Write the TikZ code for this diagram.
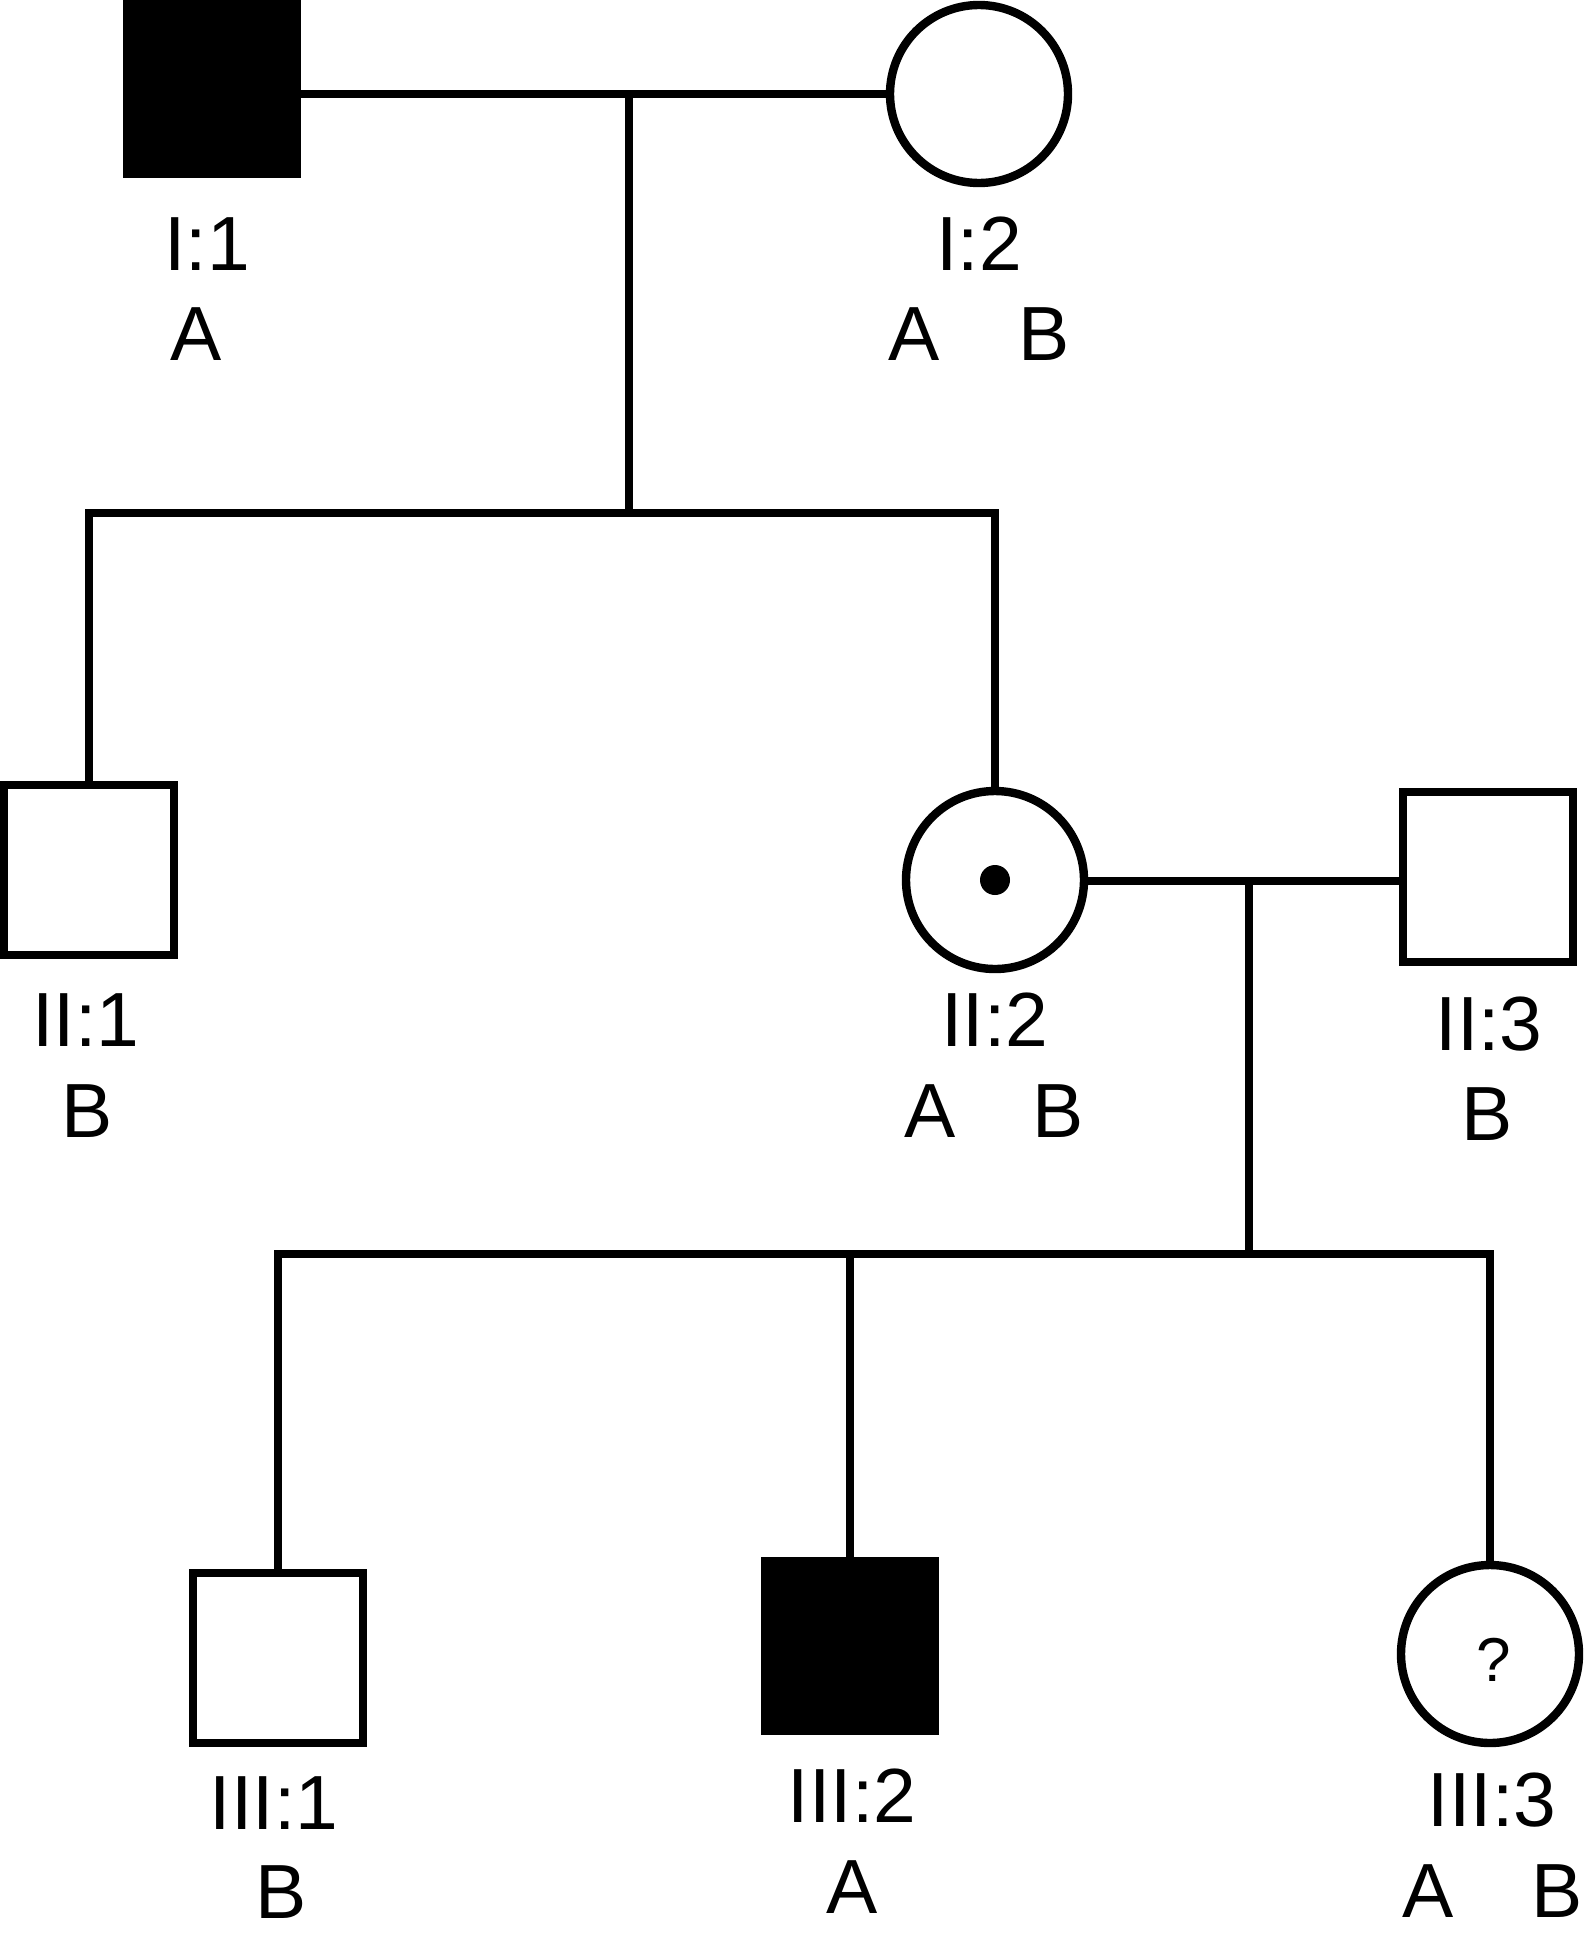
\documentclass[tikz,border=0pt]{standalone}
\usepackage{fontspec}
\setmainfont{Liberation Sans}
\begin{document}
\begin{tikzpicture}[x=0.5pt,y=-0.5pt]
		\tikzset{
			person/.style={draw=black,fill=white,line width=4.2pt,inner sep=0pt,outer sep=0pt},
			male/.style={person,rectangle,minimum size=85pt},
			female/.style={person,circle,minimum size=89pt},
			affected/.style={fill=black},
			carrier/.style={circle,fill=black,minimum size=15pt,inner sep=0pt},
			tag/.style={anchor=base,inner sep=0pt,font=\fontsize{38.4}{40}\selectfont},
			unknown/.style={inner sep=0pt,font=\fontsize{31}{33}\selectfont},
			line/.style={line width=4.2pt}
		}
		\useasboundingbox (0,0) rectangle (1586,1939);
		% generation I
		\node[male,affected] (i1) at (212,89) {};
		\node[female] (i2) at (979,94) {};
		\node[tag] (i1id) at (207,270) {I:1};
		\node[tag] (i1gt) at (196,360) {A};
		\node[tag] (i2id) at (979,270) {I:2};
		\node[tag] (i2a) at (914,360) {A};
		\node[tag] (i2b) at (1044,360) {B};
		% generation II
		\node[male] (ii1) at (89,870) {};
		\node[female] (ii2) at (995,880) {};
		\node[carrier] (ii2dot) at (ii2) {};
		\node[male] (ii3) at (1488,877) {};
		\node[tag] (ii1id) at (86,1046) {II:1};
		\node[tag] (ii1gt) at (87,1137) {B};
		\node[tag] (ii2id) at (995,1046) {II:2};
		\node[tag] (ii2a) at (930,1137) {A};
		\node[tag] (ii2b) at (1058,1137) {B};
		\node[tag] (ii3id) at (1489,1050) {II:3};
		\node[tag] (ii3gt) at (1487,1140) {B};
		% generation III
		\node[male] (iii1) at (278,1658) {};
		\node[male,affected] (iii2) at (850,1646) {};
		\node[female] (iii3) at (1490,1654) {};
		\node[unknown] (iii3q) at (1494,1660) {?};
		\node[tag] (iii1id) at (274,1829) {III:1};
		\node[tag] (iii1gt) at (281,1918) {B};
		\node[tag] (iii2id) at (852,1822) {III:2};
		\node[tag] (iii2gt) at (852,1913) {A};
		\node[tag] (iii3id) at (1492,1826) {III:3};
		\node[tag] (iii3a) at (1428,1917) {A};
		\node[tag] (iii3b) at (1557,1917) {B};
		% marriages and sibships
		\coordinate (m1) at (629,94);
		\coordinate (s1) at (629,513);
		\coordinate (m2) at (1249,881);
		\coordinate (s2) at (1249,1254);
		\draw[line] (i1.east |- m1) -- (i2.west);
		\draw[line] (m1) -- (s1);
		\draw[line] (ii1.north) |- (s1) -| (ii2.north);
		\draw[line] (ii2.east |- m2) -- (ii3.west |- m2);
		\draw[line] (m2) -- (s2);
		\draw[line] (iii1.north) |- (s2) -| (iii3.north);
		\draw[line] (iii2.north) -- (iii2.north |- s2);
	\end{tikzpicture}
\end{document}
